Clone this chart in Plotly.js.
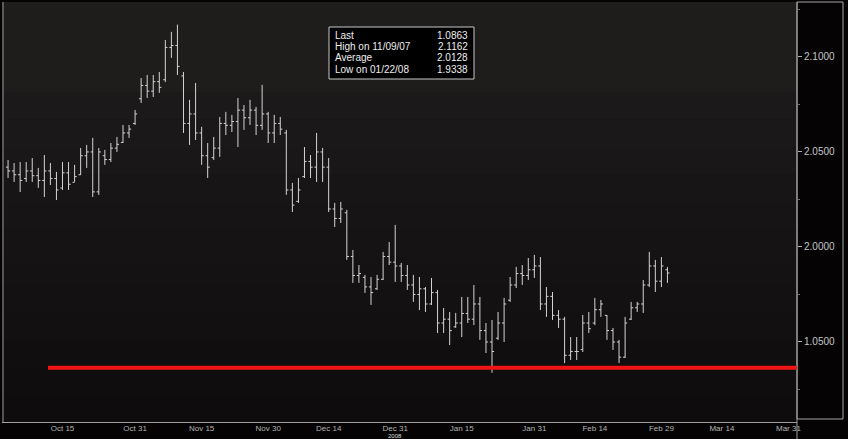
<!DOCTYPE html>
<html><head><meta charset="utf-8">
<script src="https://cdn.plot.ly/plotly-3.0.1.min.js"></script>
<style>html,body{margin:0;padding:0;background:#050303;}#chart{width:848px;height:439px;}</style>
</head><body><div id="chart"></div>
<script>
// ---- data ----
const firstDate = '2007-10-02';
const opens = [2.0420,2.0400,2.0380,2.0360,2.0400,2.0375,2.0350,2.0400,2.0360,2.0310,
2.0390,2.0340,2.0380,2.0480,2.0500,2.0290,2.0480,2.0460,2.0520,2.0550,
2.0600,2.0650,2.0780,2.0850,2.0820,2.0870,2.0880,2.1050,2.1060,2.0900,
2.0650,2.0700,2.0600,2.0480,2.0470,2.0520,2.0650,2.0640,2.0660,2.0720,
2.0680,2.0720,2.0640,2.0700,2.0600,2.0650,2.0600,2.0300,2.0240,2.0370,
2.0450,2.0420,2.0500,2.0420,2.0200,2.0150,2.0180,1.9950,1.9850,1.9840,
1.9790,1.9780,1.9830,1.9950,1.9920,1.9900,1.9850,1.9800,1.9750,1.9780,
1.9700,1.9760,1.9600,1.9620,1.9580,1.9600,1.9650,1.9620,1.9700,1.9560,
1.9500,1.9520,1.9600,1.9720,1.9800,1.9860,1.9850,1.9880,1.9900,1.9700,
1.9740,1.9640,1.9620,1.9430,1.9450,1.9460,1.9600,1.9600,1.9670,1.9640,
1.9560,1.9500,1.9420,1.9620,1.9680,1.9700,1.9800,1.9900,1.9820,1.9880];
const highs = [2.0458,2.0442,2.0447,2.0447,2.0468,2.0416,2.0484,2.0442,2.0395,2.0447,
2.0447,2.0432,2.0521,2.0537,2.0574,2.0521,2.0511,2.0547,2.0579,2.0642,
2.0642,2.0721,2.0889,2.0905,2.0905,2.0921,2.1089,2.1132,2.1170,2.0921,
2.0774,2.0863,2.0632,2.0547,2.0579,2.0684,2.0711,2.0695,2.0784,2.0747,
2.0774,2.0737,2.0853,2.0711,2.0695,2.0684,2.0616,2.0337,2.0363,2.0526,
2.0484,2.0600,2.0521,2.0468,2.0232,2.0237,2.0195,1.9984,1.9905,1.9853,
1.9842,1.9853,1.9974,2.0026,2.0116,1.9916,1.9905,1.9853,1.9842,1.9789,
1.9837,1.9774,1.9679,1.9658,1.9653,1.9737,1.9737,1.9800,1.9737,1.9600,
1.9616,1.9658,1.9732,1.9842,1.9895,1.9905,1.9942,1.9958,1.9947,1.9789,
1.9763,1.9668,1.9632,1.9526,1.9526,1.9642,1.9658,1.9732,1.9721,1.9642,
1.9574,1.9511,1.9632,1.9711,1.9711,1.9826,1.9974,1.9932,1.9947,1.9895];
const lows = [2.0363,2.0342,2.0289,2.0342,2.0342,2.0311,2.0263,2.0326,2.0247,2.0300,
2.0300,2.0342,2.0379,2.0416,2.0263,2.0274,2.0432,2.0447,2.0500,2.0547,
2.0574,2.0642,2.0758,2.0784,2.0789,2.0811,2.0868,2.0995,2.0905,2.0600,
2.0537,2.0563,2.0432,2.0363,2.0458,2.0474,2.0589,2.0605,2.0526,2.0616,
2.0642,2.0589,2.0616,2.0547,2.0547,2.0589,2.0274,2.0184,2.0232,2.0363,
2.0363,2.0342,2.0342,2.0184,2.0105,2.0126,1.9932,1.9811,1.9811,1.9758,
1.9695,1.9774,1.9826,1.9905,1.9816,1.9816,1.9774,1.9711,1.9668,1.9658,
1.9695,1.9547,1.9547,1.9484,1.9574,1.9526,1.9600,1.9589,1.9511,1.9442,
1.9338,1.9511,1.9500,1.9711,1.9784,1.9800,1.9826,1.9837,1.9668,1.9632,
1.9616,1.9574,1.9389,1.9405,1.9405,1.9447,1.9547,1.9589,1.9632,1.9511,
1.9458,1.9389,1.9416,1.9616,1.9658,1.9653,1.9789,1.9763,1.9789,1.9811];
const closes = [2.0400,2.0380,2.0350,2.0400,2.0375,2.0350,2.0400,2.0360,2.0300,2.0390,
2.0330,2.0370,2.0480,2.0500,2.0290,2.0500,2.0460,2.0520,2.0540,2.0600,
2.0620,2.0700,2.0850,2.0820,2.0870,2.0840,2.1050,2.1060,2.0950,2.0650,
2.0700,2.0600,2.0480,2.0420,2.0520,2.0650,2.0640,2.0660,2.0720,2.0680,
2.0720,2.0640,2.0700,2.0600,2.0650,2.0620,2.0300,2.0220,2.0300,2.0450,
2.0420,2.0500,2.0420,2.0200,2.0150,2.0200,1.9950,1.9850,1.9860,1.9790,
1.9760,1.9830,1.9950,1.9920,1.9900,1.9850,1.9800,1.9750,1.9780,1.9700,
1.9760,1.9600,1.9620,1.9560,1.9600,1.9650,1.9620,1.9700,1.9560,1.9500,
1.9450,1.9600,1.9700,1.9800,1.9860,1.9850,1.9880,1.9900,1.9700,1.9740,
1.9640,1.9620,1.9430,1.9450,1.9450,1.9600,1.9570,1.9670,1.9700,1.9560,
1.9500,1.9420,1.9600,1.9680,1.9700,1.9800,1.9900,1.9820,1.9900,1.9863];
const xTickDates = ['2007-10-15','2007-10-31','2007-11-15','2007-11-30','2007-12-14','2007-12-31',
                    '2008-01-15','2008-01-31','2008-02-14','2008-02-29','2008-03-14','2008-03-31'];
const xTickLabels = ['Oct 15','Oct 31','Nov 15','Nov 30','Dec 14','Dec 31',
                     'Jan 15','Jan 31','Feb 14','Feb 29','Mar 14','Mar 31'];
const yTickVals = [1.95, 2.00, 2.05, 2.10];
const yTickLabels = ['1.0500','2.0000','2.0500','2.1000'];
const yMinorVals = [1.925, 1.975, 2.025, 2.075, 2.125];
const statLabels = ['Last','High on 11/09/07','Average','Low on 01/22/08'];
const statValues = ['1.0863','2.1162','2.0128','1.9338'];
const supportLevel = 1.9365;
const yearLabel = '2008';

// ---- dates: consecutive weekdays ----
function weekdays(start, n) {
  const out = []; const d = new Date(start + 'T00:00:00Z');
  while (out.length < n) {
    const wd = d.getUTCDay();
    if (wd !== 0 && wd !== 6) out.push(d.toISOString().slice(0, 10));
    d.setUTCDate(d.getUTCDate() + 1);
  }
  return out;
}
const dates = weekdays(firstDate, closes.length);

// ---- pixel helpers for paper coords ----
const W = 848, H = 439, mL = 2, mR = 51, mT = 2, mB = 17;
const pw = W - mL - mR, ph = H - mT - mB;
const px = x => (x - mL) / pw;
const py = y => (H - mB - y) / ph;

const shapes = [];
// background gradient bands
const bandTop = py(92);
shapes.push({type:'rect', xref:'paper', yref:'paper', x0:0, x1:1, y0:bandTop, y1:1,
  fillcolor:'#1f1c1c', line:{width:0}, layer:'below'});
const nb = 12;
for (let i = 0; i < nb; i++) {
  const t = i / (nb - 1);
  const r = Math.round(27 - 13 * t), g = Math.round(25 - 13 * t), b = Math.round(25 - 13 * t);
  shapes.push({type:'rect', xref:'paper', yref:'paper', x0:0, x1:1,
    y0: bandTop * (1 - (i + 1) / nb), y1: bandTop * (1 - i / nb),
    fillcolor:`rgb(${r},${g},${b})`, line:{width:0}, layer:'below'});
}
// right axis panel frame
shapes.push({type:'rect', xref:'paper', yref:'paper', x0:1, x1:px(843), y0:py(419), y1:py(2),
  line:{color:'#a8a8a8', width:1}, fillcolor:'rgba(0,0,0,0)'});
// left frame
shapes.push({type:'line', xref:'paper', yref:'paper', x0:px(3), x1:px(3), y0:0, y1:1,
  line:{color:'#9a9a9a', width:1}});
// right plot edge down to bottom
shapes.push({type:'line', xref:'paper', yref:'paper', x0:1, x1:1, y0:py(439), y1:1,
  line:{color:'#a0a0a0', width:1}});
// red support line
shapes.push({type:'line', xref:'paper', yref:'y', x0:px(48), x1:1, y0:supportLevel, y1:supportLevel,
  line:{color:'#f21414', width:4}});
// stats box
shapes.push({type:'rect', xref:'paper', yref:'paper', x0:px(329), x1:px(474), y0:py(79), y1:py(27),
  fillcolor:'#000000', line:{color:'#c8c8c8', width:1}, layer:'above'});

const annotations = [];
const rowY = [35, 46.5, 58, 69.5];
statLabels.forEach((s, i) => {
  annotations.push({xref:'paper', yref:'paper', x:px(333), y:py(rowY[i]), xanchor:'left', yanchor:'middle',
    text:s, showarrow:false, font:{family:'Liberation Sans, Arial, sans-serif', size:10, color:'#eeeeee'}});
  annotations.push({xref:'paper', yref:'paper', x:px(470), y:py(rowY[i]), xanchor:'right', yanchor:'middle',
    text:statValues[i], showarrow:false, font:{family:'Liberation Sans, Arial, sans-serif', size:10, color:'#eeeeee'}});
});
annotations.push({xref:'x', yref:'paper', x:'2007-12-31', y:py(439.5), xanchor:'center', yanchor:'bottom',
  text:yearLabel, showarrow:false, borderpad:0,
  font:{family:'Liberation Sans, Arial, sans-serif', size:6, color:'#dddddd'}});

const trace = {
  type:'ohlc', x:dates, open:opens, high:highs, low:lows, close:closes,
  increasing:{line:{color:'#d4d4d4', width:1}},
  decreasing:{line:{color:'#d4d4d4', width:1}},
  tickwidth:0.35, hoverinfo:'skip', showlegend:false
};

const layout = {
  width:W, height:H, margin:{l:mL, r:mR, t:mT, b:mB, pad:0},
  paper_bgcolor:'#050303', plot_bgcolor:'#151212',
  showlegend:false,
  font:{family:'Liberation Sans, Arial, sans-serif', color:'#c0c0c0'},
  xaxis:{type:'date', range:['2007-10-01','2008-04-01 10:00'],
    rangebreaks:[{bounds:['sat','mon']}], rangeslider:{visible:false},
    tickmode:'array', tickvals:xTickDates, ticktext:xTickLabels,
    tickfont:{size:8, color:'#b4b4b4'}, ticks:'', ticklabelstandoff:-2,
    showgrid:false, zeroline:false,
    showline:true, linecolor:'#a0a0a0', linewidth:1, fixedrange:true},
  yaxis:{side:'right', range:[1.9079, 2.1289], tickmode:'array', tickvals:yTickVals, ticktext:yTickLabels,
    ticks:'outside', ticklen:4, tickcolor:'#b0b0b0', tickwidth:1,
    tickfont:{size:10, color:'#c4c4c4'}, showgrid:false, zeroline:false, showline:false,
    minor:{tickmode:'array', tickvals:yMinorVals, ticks:'outside', ticklen:2, tickcolor:'#707070', showgrid:false},
    fixedrange:true},
  shapes:shapes, annotations:annotations
};

Plotly.newPlot('chart', [trace], layout, {staticPlot:true, displayModeBar:false});
</script>
</body></html>
